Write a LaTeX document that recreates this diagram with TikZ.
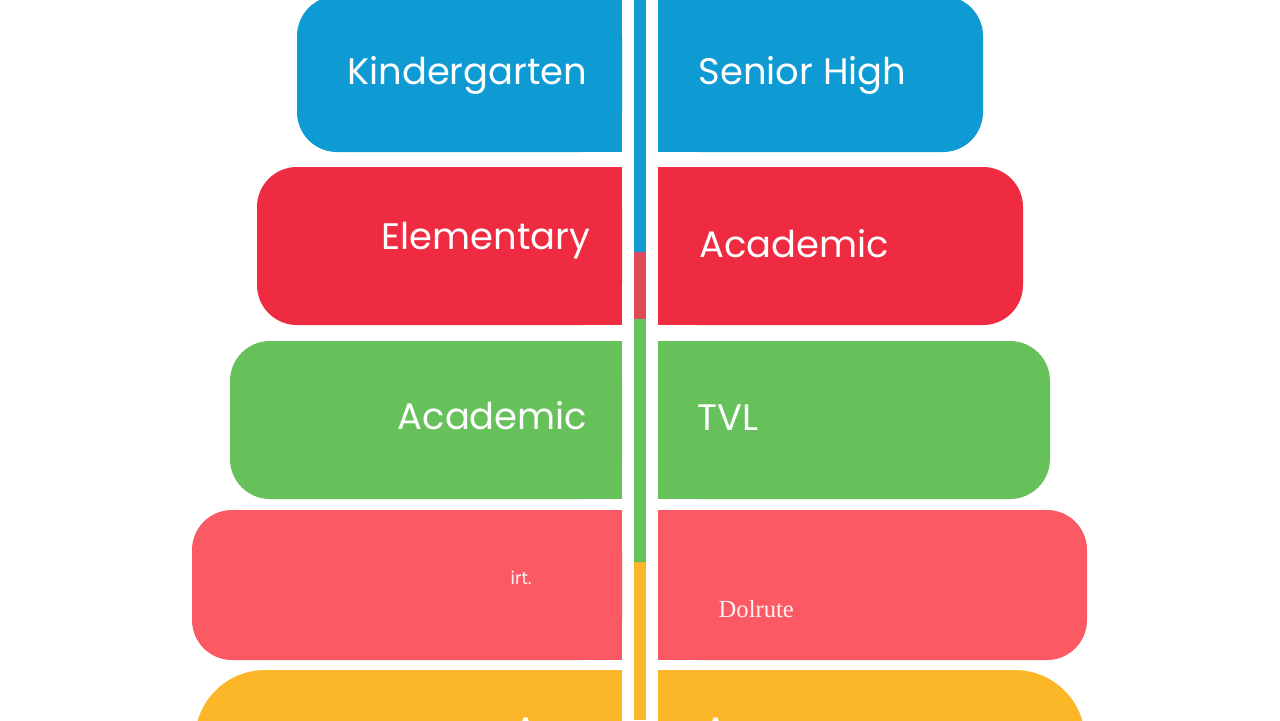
\documentclass[tikz,border=0pt]{standalone}
\usepackage{fontspec}
\setmainfont{Poppins}
\newfontfamily\scribble{Liberation Serif}
\definecolor{barblue}{RGB}{14,155,212}
\definecolor{barred}{RGB}{238,43,64}
\definecolor{bargreen}{RGB}{103,193,91}
\definecolor{barcoral}{RGB}{251,89,99}
\definecolor{barorange}{RGB}{251,183,39}
\definecolor{stemred}{RGB}{222,74,90}
\tikzset{
  lbl/.style={text=white, inner sep=0pt, font=\fontsize{10.5}{12}\selectfont},
  tiny/.style={text=white!92!barcoral, inner sep=0pt, font=\fontsize{5}{6}\selectfont},
  halfbar/.style={rounded corners=4mm},
  lowbar/.style={rounded corners=7mm}
}

\begin{document}
\begin{tikzpicture}[x=0.1mm,y=-0.1mm]
\clip (0,0) rectangle (1280,720);
\fill [white] (0,0) rectangle (1280,720);
% row 1
\fill [barblue, halfbar] (297,-4) rectangle (622,152);
\fill [barblue] (570,-4) rectangle (622,152);
\fill [barblue, halfbar] (658,-4) rectangle (983,152);
\fill [barblue] (658,-4) rectangle (710,152);
% row 2
\fill [barred, halfbar] (257,167) rectangle (622,325);
\fill [barred] (570,167) rectangle (622,325);
\fill [barred, halfbar] (658,167) rectangle (1023,325);
\fill [barred] (658,167) rectangle (710,325);
% row 3
\fill [bargreen, halfbar] (230,341) rectangle (622,499);
\fill [bargreen] (570,341) rectangle (622,499);
\fill [bargreen, halfbar] (658,341) rectangle (1050,499);
\fill [bargreen] (658,341) rectangle (710,499);
% row 4
\fill [barcoral, halfbar] (192,510) rectangle (622,660);
\fill [barcoral] (570,510) rectangle (622,660);
\fill [barcoral, halfbar] (658,510) rectangle (1087,660);
\fill [barcoral] (658,510) rectangle (710,660);
% row 5
\fill [barorange, lowbar] (195,670) rectangle (622,840);
\fill [barorange] (520,670) rectangle (622,840);
\fill [barorange, lowbar] (658,670) rectangle (1085,840);
\fill [barorange] (658,670) rectangle (760,840);
% stem
\coordinate (s0) at (640,0);
\coordinate (s1) at (640,252);
\coordinate (s2) at (640,319);
\coordinate (s3) at (640,562);
\coordinate (s4) at (640,720);
\draw [barblue, line width=1.2mm] (s0) -- (s1);
\draw [stemred, line width=1.2mm] (s1) -- (s2);
\draw [bargreen, line width=1.2mm] (s2) -- (s3);
\draw [barorange, line width=1.2mm] (s3) -- (s4);
% labels
\node [lbl, anchor=base east] (kinder) at (588,84) {Kindergarten};
\node [lbl, anchor=base west] (senior) at (698,84) {Senior High};
\node [lbl, anchor=base east] (elem) at (591,249) {Elementary};
\node [lbl, anchor=base west] (acadr) at (699,257) {Academic};
\node [lbl, anchor=base east] (acadl) at (588,429) {Academic};
\node [lbl, anchor=base west] (tvl) at (697,430) {TVL};
\node [tiny, anchor=base west] (garbl) at (510,584) {irt.};
\node [tiny, anchor=base west, font=\fontsize{7}{8}\selectfont\scribble] (garbr) at (718,617) {Dolrute};
\node [lbl, anchor=base west] (botl) at (513,743) {A};
\node [lbl, anchor=base west] (botr) at (703,743) {A};
\end{tikzpicture}
\end{document}
